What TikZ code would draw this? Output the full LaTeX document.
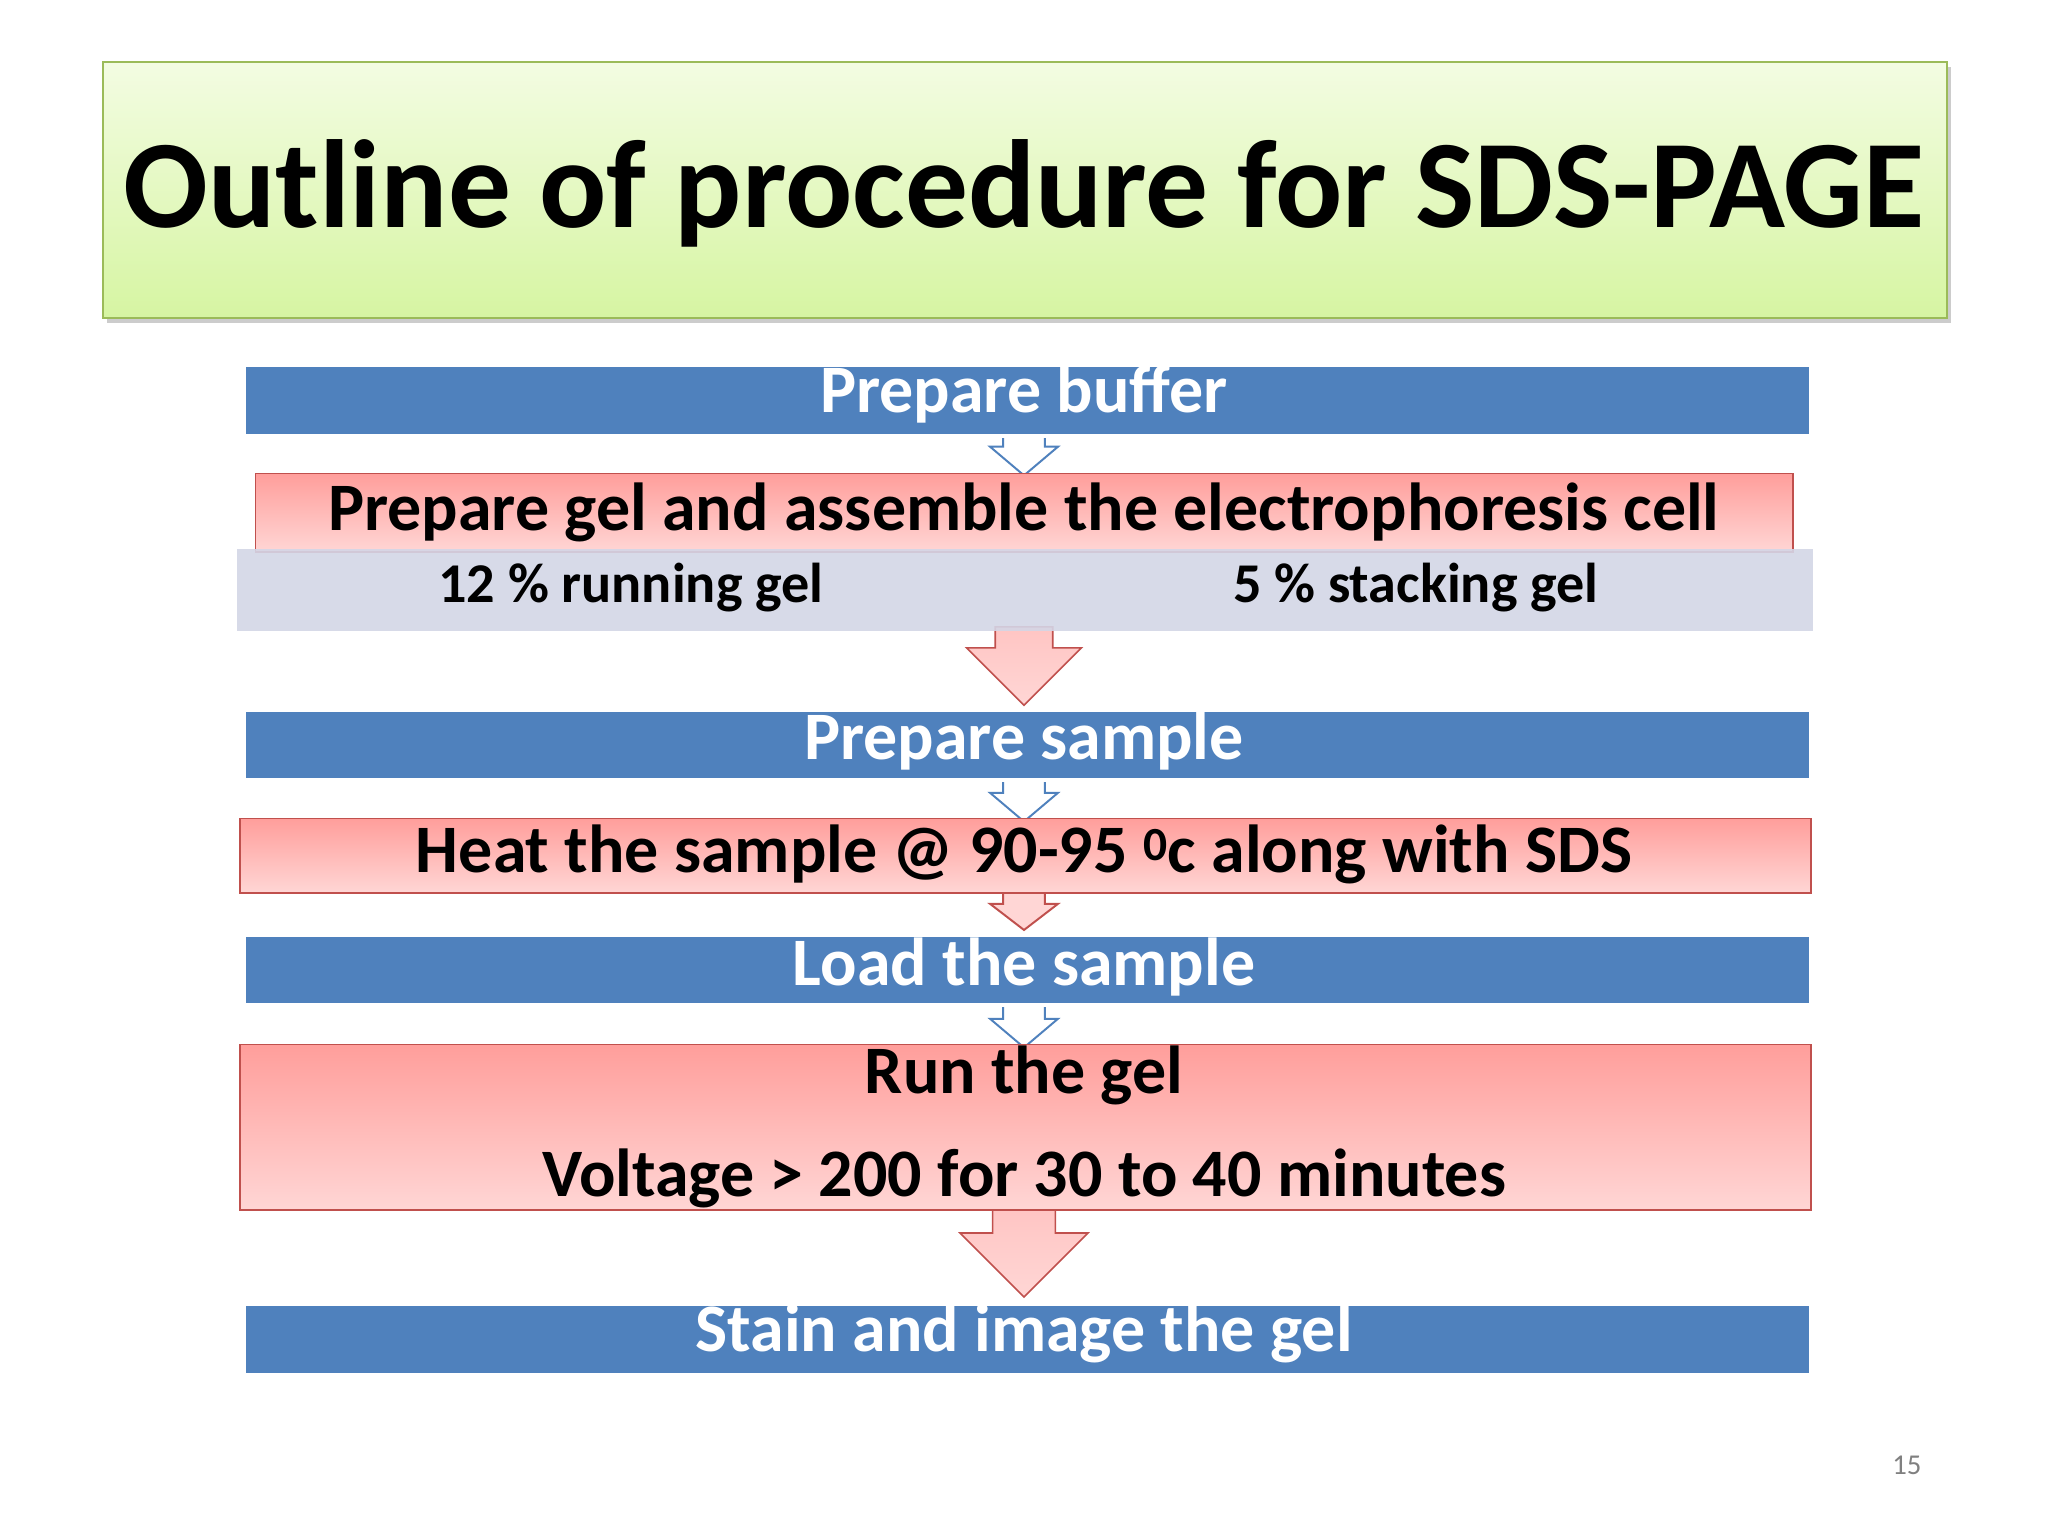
\documentclass[tikz,border=0pt]{standalone}
\usepackage{fontspec}
\setmainfont{Carlito}
\begin{document}
\begin{tikzpicture}[x=1pt,y=-1pt,
  bluebox/.style={draw=white,line width=3pt,fill=blue1},
  pinkbox/.style={draw=pinkline,line width=1.2pt,top color=pinktop,bottom color=pinkbot},
  wtext/.style={text=white,font=\fontsize{52}{56}\selectfont\bfseries},
  btext/.style={text=black,font=\fontsize{52}{56}\selectfont\bfseries}]
\definecolor{blue1}{HTML}{4F81BD}
\definecolor{pinkline}{HTML}{C0504D}
\definecolor{pinktop}{HTML}{FF9E9B}
\definecolor{pinkbot}{HTML}{FFD6D5}
\definecolor{lav}{HTML}{D3D6E6}
\definecolor{greentop}{HTML}{F3FCE2}
\definecolor{greenbot}{HTML}{D6F5A2}
\definecolor{greenline}{HTML}{9BBB59}
\useasboundingbox (0,0) rectangle (1568,1176);
\fill[white] (0,0) rectangle (1568,1176);
% title
\fill[gray!40] (82,51) rectangle (1494,247);
\node[draw=greenline,line width=1.5pt,top color=greentop,bottom color=greenbot,minimum width=1412pt,minimum height=196pt,anchor=north west,inner sep=0] (title) at (78,47) {};
\node[font=\fontsize{96}{100}\selectfont\bfseries] (tt) at (784,148) {Outline of procedure for SDS-PAGE};
% arrows (drawn first)
\newcommand{\smallarrow}[4]{%
 \draw[#4,line width=1.5pt] (768,#1) -- (800,#1) -- (800,#2) -- (810,#2) -- (784,#3) -- (758,#2) -- (768,#2) -- cycle;}
\newcommand{\bigarrow}[7]{%
 \draw[draw=pinkline,line width=1.2pt,top color=pinktop!60,bottom color=pinkbot] (#3,#1) -- (#4,#1) -- (#4,#5) -- (#7,#5) -- (784,#2) -- (#6,#5) -- (#3,#5) -- cycle;}
\smallarrow{326}{342}{364}{draw=blue1,fill=white}
\smallarrow{591}{607}{629}{draw=blue1,fill=white}
\smallarrow{680}{692}{712}{draw=pinkline,fill=pinkbot}
\smallarrow{764}{780}{802}{draw=blue1,fill=white}
\bigarrow{480}{540}{762}{806}{496}{740}{828}
\bigarrow{924}{993}{760}{808}{944}{735}{833}
% boxes
\node[bluebox,minimum width=1200pt,minimum height=54pt,anchor=north west,inner sep=0] (b1) at (185,278) {};
\node[wtext] at (784,302) {Prepare buffer};
\node[pinkbox,minimum width=1177pt,minimum height=60pt,anchor=north west,inner sep=0] (b2) at (195,362) {};
\node[btext] at (784,392) {Prepare gel and assemble the electrophoresis cell};
\node[fill=lav,opacity=0.9,minimum width=1207pt,minimum height=63pt,anchor=north west,inner sep=0] (b2b) at (181,420) {};
\node[btext,font=\fontsize{43}{46}\selectfont\bfseries] (rg) at (483,450) {12 \% running gel};
\node[btext,font=\fontsize{43}{46}\selectfont\bfseries] (sg) at (1084,450) {5 \% stacking gel};
\node[bluebox,minimum width=1200pt,minimum height=54pt,anchor=north west,inner sep=0] (b3) at (185,542) {};
\node[wtext] at (784,567) {Prepare sample};
\node[pinkbox,minimum width=1203pt,minimum height=57pt,anchor=north west,inner sep=0] (b4) at (183,626) {};
\node[btext] at (784,654) {Heat the sample @ 90-95 \textsuperscript{0}c along with SDS};
\node[bluebox,minimum width=1200pt,minimum height=54pt,anchor=north west,inner sep=0] (b5) at (185,714) {};
\node[wtext] at (784,740) {Load the sample};
\node[pinkbox,minimum width=1203pt,minimum height=127pt,anchor=north west,inner sep=0] (b6) at (183,799) {};
\node[btext] at (784,823) {Run the gel};
\node[btext] at (784,902) {Voltage > 200 for 30 to 40 minutes};
\node[bluebox,minimum width=1200pt,minimum height=54pt,anchor=north west,inner sep=0] (b7) at (185,997) {};
\node[wtext] at (784,1021) {Stain and image the gel};
\node[text=gray,font=\fontsize{22}{24}\selectfont] (pg) at (1460,1122) {15};
\end{tikzpicture}
\end{document}
